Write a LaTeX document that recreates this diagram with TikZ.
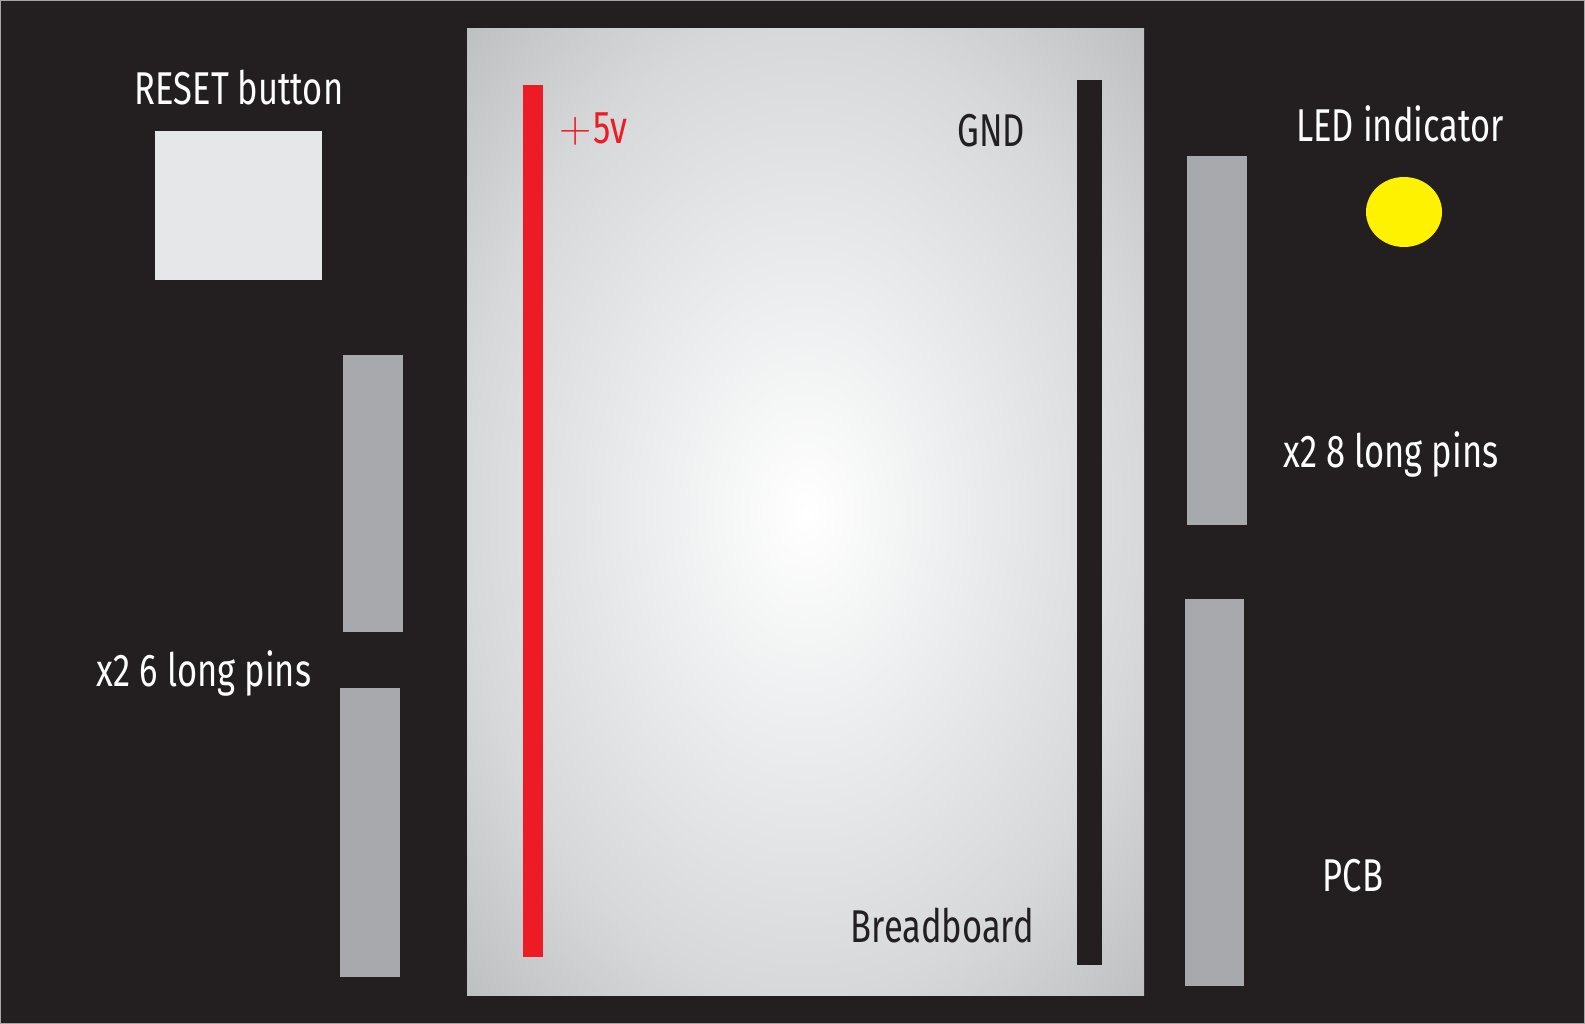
\documentclass[tikz,border=0pt]{standalone}
\usepackage{fontspec}
\setmainfont[FakeStretch=0.75]{Fira Sans}
\definecolor{bg}{HTML}{231F20}
\definecolor{pingray}{HTML}{A7A9AC}
\definecolor{resetgray}{HTML}{E6E7E8}
\definecolor{bbmid}{HTML}{D6D8DA}
\definecolor{bbedge}{HTML}{BCBEC0}
\definecolor{railred}{HTML}{ED1C24}
\definecolor{ledyellow}{HTML}{FFF200}
\pgfdeclareradialshading{bbshade}{\pgfpoint{0bp}{0bp}}{color(0bp)=(white); color(25bp)=(bbmid); color(36bp)=(bbedge); color(50bp)=(bbedge)}
\begin{document}
\begin{tikzpicture}[x=1pt,y=-1pt,
  lbl/.style={inner sep=0pt, font=\fontsize{46}{50}\selectfont, text=white},
  pinbox/.style={fill=pingray},
  railbar/.style={fill=railred},
  gndbar/.style={fill=bg}]
\useasboundingbox (0,0) rectangle (1585,1024);
\fill[bg, draw=gray!70, line width=1pt] (0.5,0.5) rectangle (1584.5,1023.5);
% breadboard
\shade[shading=bbshade] (467,29) rectangle (1144,995);
\fill[railbar] (523,85) rectangle (543,957);
\fill[gndbar] (1077,80) rectangle (1102,965);
% reset button
\fill[resetgray] (155,131) rectangle (322,280);
% pins
\fill[pinbox] (343,355) rectangle (403,632);
\fill[pinbox] (340,688) rectangle (400,977);
\fill[pinbox] (1187,156) rectangle (1247,525);
\fill[pinbox] (1185,599) rectangle (1244,986);
% LED
\fill[ledyellow] (1404,212) ellipse [x radius=38, y radius=35];
% labels
\node[lbl, anchor=base west, text=railred] (plus5) at (559,144) {\raisebox{1pt}{\scalebox{1.8}{$+$}}\kern2pt 5v};
\node[lbl, anchor=base] (reset) at (239,105) {RESET button};
\node[lbl, anchor=base east, text=bg] (gnd) at (1025,147) {GND};
\node[lbl, anchor=base] (led) at (1400,142) {LED indicator};
\node[lbl, anchor=base] (pins8) at (1391,467) {x2 8 long pins};
\node[lbl, anchor=base] (pins6) at (204,686) {x2 6 long pins};
\node[lbl, anchor=base east, text=bg] (bb) at (1034,942) {Breadboard};
\node[lbl, anchor=base] (pcb) at (1353,891) {PCB};
\end{tikzpicture}
\end{document}
